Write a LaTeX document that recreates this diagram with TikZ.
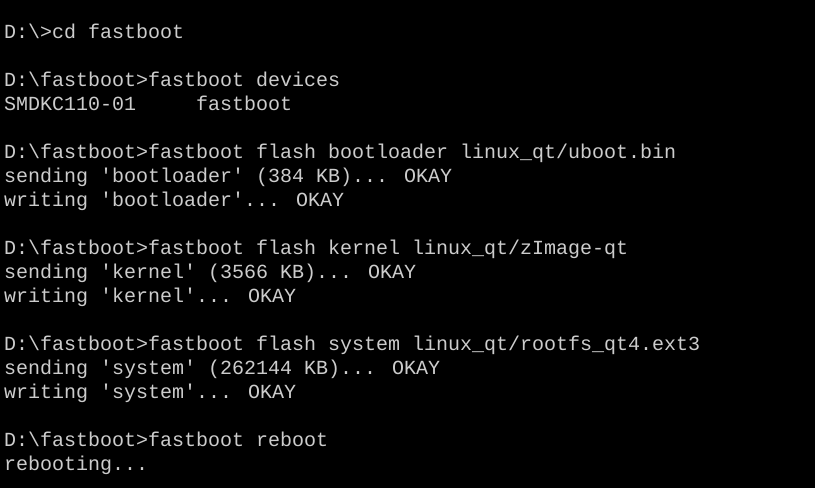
\documentclass[tikz,border=0pt]{standalone}
\usepackage{fontspec}
\newfontfamily\term{Liberation Mono}
\definecolor{fg}{RGB}{204,204,204}
\begin{document}
\begin{tikzpicture}[x=1pt,y=-1pt,
  ln/.style={anchor=base west,inner sep=0pt,text=fg,font=\term\fontsize{20}{20}\selectfont}]
\fill[black] (0,0) rectangle (815,488);
\useasboundingbox (0,0) rectangle (815,488);
\node[ln] (l1) at (4,38) {D:\textbackslash>cd fastboot};
\node[ln] (l2) at (4,86) {D:\textbackslash fastboot>fastboot devices};
\node[ln] (l3) at (4,110) {SMDKC110-01};
\node[ln] (l3b) at (196,110) {fastboot};
\node[ln] (l4) at (4,158) {D:\textbackslash fastboot>fastboot flash bootloader linux\_qt/uboot.bin};
\node[ln] (l5) at (4,182) {sending 'bootloader' (384 KB)... OKAY};
\node[ln] (l6) at (4,206) {writing 'bootloader'... OKAY};
\node[ln] (l7) at (4,254) {D:\textbackslash fastboot>fastboot flash kernel linux\_qt/zImage-qt};
\node[ln] (l8) at (4,278) {sending 'kernel' (3566 KB)... OKAY};
\node[ln] (l9) at (4,302) {writing 'kernel'... OKAY};
\node[ln] (l10) at (4,350) {D:\textbackslash fastboot>fastboot flash system linux\_qt/rootfs\_qt4.ext3};
\node[ln] (l11) at (4,374) {sending 'system' (262144 KB)... OKAY};
\node[ln] (l12) at (4,398) {writing 'system'... OKAY};
\node[ln] (l13) at (4,446) {D:\textbackslash fastboot>fastboot reboot};
\node[ln] (l14) at (4,470) {rebooting...};
\end{tikzpicture}
\end{document}
